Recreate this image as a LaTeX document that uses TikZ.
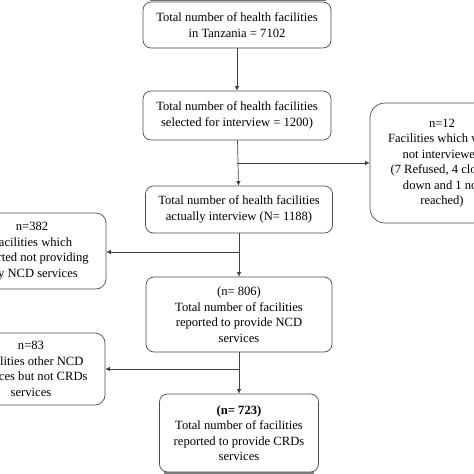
\documentclass[tikz,border=0pt]{standalone}
\usepackage{fontspec}
\setmainfont{Liberation Serif}
\usetikzlibrary{arrows.meta}
\begin{document}
\begin{tikzpicture}[x=1pt, y=-1pt,
		box/.style={draw=black!70, line width=0.7pt, rounded corners=8pt, align=center, inner sep=0pt, font=\fontsize{12.6}{15.5}\selectfont},
		link/.style={draw=black!75, line width=0.7pt, -{Latex[length=4.5pt,width=4.5pt]}}]
		\useasboundingbox (0,0) rectangle (474,474);
		\clip (0,0) rectangle (474,474);
		\fill[black!55] (150,0) rectangle (326,1.3);
		\fill[black!50] (164,470) rectangle (314,474);
		
		\node[box, minimum width=188pt, minimum height=46pt] (total) at (237,25) {Total number of health facilities\\in Tanzania = 7102};
		\node[box, minimum width=188pt, minimum height=49pt] (selected) at (237,115.5) {Total number of health facilities\\selected for interview = 1200)};
		\node[box, minimum width=187pt, minimum height=47pt] (actual) at (239,209.5) {Total number of health facilities\\actually interview (N= 1188)};
		\node[box, minimum width=186pt, minimum height=75pt, fill=white] (ncd) at (239,314.5) {(n= 806)\\Total number of facilities\\reported to provide NCD\\services};
		\node[box, minimum width=159pt, minimum height=78pt, fill=white] (crd) at (239,433) {\textbf{(n= 723)}\\Total number of facilities\\reported to provide CRDs\\services};
		
		\node[box, rounded corners=15pt, minimum width=144pt, minimum height=120pt] (notint) at (442,163) {n=12\\Facilities which were\\not interviewed\\(7 Refused, 4 closed\\down and 1 not\\reached)};
		\node[box, rounded corners=10pt, minimum width=148pt, minimum height=76pt] (noncd) at (32,251) {n=382\\Facilities which\\reported not providing\\any NCD services};
		\node[box, rounded corners=10pt, minimum width=148pt, minimum height=72pt] (nocrd) at (31,369) {n=83\\Facilities other NCD\\services but not CRDs\\services};
		
		\coordinate (split1) at (237,163);
		\coordinate (split2) at (239,252);
		\coordinate (split3) at (239,369);
		
		\draw[link] (total) -- (selected);
		\draw[link] (selected) -- (actual);
		\draw[link] (split1) -- (notint.west);
		\draw[link] (actual) -- (ncd);
		\draw[link] (split2) -- (noncd.east |- split2);
		\draw[link] (ncd) -- (crd);
		\draw[link] (split3) -- (nocrd.east |- split3);
	\end{tikzpicture}
\end{document}
